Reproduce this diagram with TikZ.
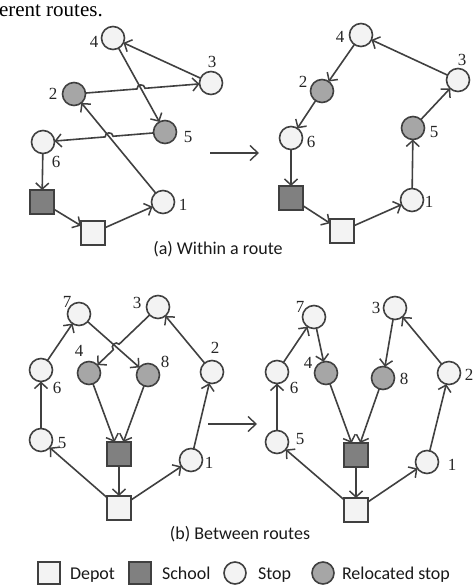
\documentclass[tikz,border=0pt]{standalone}
\usepackage{fontspec}
\setmainfont{Liberation Serif}
\newfontfamily\capfont{Carlito}
\usetikzlibrary{arrows.meta,calc,intersections}
\definecolor{lc}{HTML}{404040}
\definecolor{wf}{HTML}{F3F3F3}
\definecolor{rf}{HTML}{A6A6A6}
\definecolor{sf}{HTML}{808080}
\begin{document}
\begin{tikzpicture}[x=1pt,y=1pt,
  every node/.style={inner sep=0pt, outer sep=0pt},
  stop/.style={circle, draw=lc, fill=wf, line width=1.6pt, minimum size=23pt},
  reloc/.style={stop, fill=rf},
  school/.style={rectangle, draw=lc, fill=sf, line width=1.6pt, minimum size=24pt},
  depot/.style={school, fill=wf},
  lstop/.style={stop, minimum size=22pt},
  lreloc/.style={reloc, minimum size=22pt},
  lschool/.style={school, minimum size=22pt},
  ldepot/.style={depot, minimum size=22pt},
  lab/.style={font=\fontsize{17}{17}\selectfont, text=black!85},
  captext/.style={font=\capfont\fontsize{18}{18}\selectfont, text=black!90},
  edge/.style={draw=lc, line width=1.6pt, -{Straight Barb[length=6pt,width=13pt,line width=1.5pt]}},
  bigarrow/.style={draw=lc, line width=1.5pt, -{Straight Barb[length=8pt,width=15pt,line width=1.4pt]}}
]
\useasboundingbox (0,0) rectangle (474,-585);

% top fragment text
\node[anchor=base west, font=\fontsize{21}{21}\selectfont] (toptext) at (-1,-17) {erent routes.};

% ---------- (a) left ----------
\node[stop]  (a4) at (113,-38) {};
\node[stop]  (a3) at (211,-83) {};
\node[reloc] (a2) at (74,-94) {};
\node[reloc] (a5) at (165,-132) {};
\node[stop]  (a6) at (43,-142) {};
\node[school] (aS) at (42,-202) {};
\node[depot] (aD) at (93,-233) {};
\node[stop]  (a1) at (163,-202) {};
\node[lab] (la4) at (94,-42) {4};
\node[lab] (la3) at (212,-62) {3};
\node[lab] (la2) at (53,-94) {2};
\node[lab] (la5) at (188,-137) {5};
\node[lab] (la6) at (56,-162) {6};
\node[lab] (la1) at (183,-205) {1};

\path[name path=p45] (a4) -- (a5);
\path[name path=p23] (a2) -- (a3);
\path[name path=p12] (a1) -- (a2);
\path[name path=p56] (a5) -- (a6);
\path[name intersections={of=p45 and p23, by=ha1}];
\path[name intersections={of=p12 and p56, by=ha2}];

\draw[edge] (a3) -- (a4);
\draw[edge] (a4) -- (a5);
\draw[edge] (a5) -- ($(ha2)!4pt!(a5)$) to[bend right=90, looseness=1.6] ($(ha2)!4pt!(a6)$) -- (a6);
\draw[edge] (a6) -- (aS);
\draw[edge] (aS) -- (aD);
\draw[edge] (aD) -- (a1);
\draw[edge] (a1) -- (a2);
\draw[edge] (a2) -- ($(ha1)!4pt!(a2)$) to[bend left=90, looseness=1.6] ($(ha1)!4pt!(a3)$) -- (a3);

% arrow between (a)
\coordinate (aa1) at (210,-153);
\coordinate (aa2) at (259,-153);
\draw[bigarrow] (aa1) -- (aa2);

% ---------- (a) right ----------
\node[stop]  (b4) at (361,-35) {};
\node[stop]  (b3) at (458,-80) {};
\node[reloc] (b2) at (322,-91) {};
\node[reloc] (b5) at (413,-128) {};
\node[stop]  (b6) at (291,-138) {};
\node[school] (bS) at (291,-198) {};
\node[depot] (bD) at (342,-231) {};
\node[stop]  (b1) at (412,-200) {};
\node[lab] (lb4) at (340,-37) {4};
\node[lab] (lb3) at (462,-60) {3};
\node[lab] (lb2) at (303,-82) {2};
\node[lab] (lb5) at (434,-132) {5};
\node[lab] (lb6) at (311,-142) {6};
\node[lab] (lb1) at (429,-202) {1};

\draw[edge] (b3) -- (b4);
\draw[edge] (b4) -- (b2);
\draw[edge] (b2) -- (b6);
\draw[edge] (b6) -- (bS);
\draw[edge] (bS) -- (bD);
\draw[edge] (bD) -- (b1);
\draw[edge] (b1) -- (b5);
\draw[edge] (b5) -- (b3);

\node[captext, anchor=base] (capa) at (218,-254) {(a) Within a route};

% ---------- (b) left ----------
\node[stop]  (c7) at (79,-314) {};
\node[stop]  (c3) at (158,-307) {};
\node[reloc] (c4) at (89,-373) {};
\node[reloc] (c8) at (148,-375) {};
\node[stop]  (c2) at (212,-372) {};
\node[stop]  (c6) at (41,-370) {};
\node[stop]  (c5) at (41,-440) {};
\node[school] (cS) at (119,-454) {};
\node[depot] (cD) at (119,-508) {};
\node[stop]  (c1) at (191,-460) {};
\node[lab] (lc7) at (67,-302) {7};
\node[lab] (lc3) at (137,-303) {3};
\node[lab] (lc4) at (79,-351) {4};
\node[lab] (lc8) at (165,-362) {8};
\node[lab] (lc2) at (215,-348) {2};
\node[lab] (lc6) at (57,-388) {6};
\node[lab] (lc5) at (62,-443) {5};
\node[lab] (lc1) at (209,-463) {1};

\path[name path=p78] (c7) -- (c8);
\path[name path=p34] (c3) -- (c4);
\path[name intersections={of=p78 and p34, by=hc1}];

\draw[edge] (cD) -- (c5);
\draw[edge] (c5) -- (c6);
\draw[edge] (c6) -- (c7);
\draw[edge] (c7) -- (c8);
\draw[edge] (c3) -- ($(hc1)!4pt!(c3)$) to[bend right=90, looseness=1.6] ($(hc1)!4pt!(c4)$) -- (c4);
\draw[edge] (c4) -- (cS);
\draw[edge] (c8) -- (cS);
\draw[edge] (cS) -- (cD);
\draw[edge] (cD) -- (c1);
\draw[edge] (c1) -- (c2);
\draw[edge] (c2) -- (c3);

% arrow between (b)
\coordinate (ba1) at (208,-424);
\coordinate (ba2) at (257,-424);
\draw[bigarrow] (ba1) -- (ba2);

% ---------- (b) right ----------
\node[stop]  (d7) at (314,-317) {};
\node[stop]  (d3) at (395,-308) {};
\node[reloc] (d4) at (326,-373) {};
\node[reloc] (d8) at (383,-378) {};
\node[stop]  (d2) at (449,-373) {};
\node[stop]  (d6) at (277,-372) {};
\node[stop]  (d5) at (277,-442) {};
\node[school] (dS) at (356,-455) {};
\node[depot] (dD) at (356,-510) {};
\node[stop]  (d1) at (427,-462) {};
\node[lab] (ld7) at (300,-307) {7};
\node[lab] (ld3) at (376,-308) {3};
\node[lab] (ld4) at (308,-363) {4};
\node[lab] (ld8) at (404,-379) {8};
\node[lab] (ld2) at (469,-375) {2};
\node[lab] (ld6) at (294,-388) {6};
\node[lab] (ld5) at (300,-439) {5};
\node[lab] (ld1) at (452,-465) {1};

\draw[edge] (dD) -- (d5);
\draw[edge] (d5) -- (d6);
\draw[edge] (d6) -- (d7);
\draw[edge] (d7) -- (d4);
\draw[edge] (d3) -- (d8);
\draw[edge] (d4) -- (dS);
\draw[edge] (d8) -- (dS);
\draw[edge] (dS) -- (dD);
\draw[edge] (dD) -- (d1);
\draw[edge] (d1) -- (d2);
\draw[edge] (d2) -- (d3);

\node[captext, anchor=base] (capb) at (240,-539) {(b) Between routes};

% ---------- legend ----------
\node[ldepot] (kD) at (49,-573) {};
\node[captext, anchor=base west] (tD) at (70,-579) {Depot};
\node[lschool] (kS) at (140,-573) {};
\node[captext, anchor=base west] (tS) at (162,-579) {School};
\node[lstop] (kT) at (235,-573) {};
\node[captext, anchor=base west] (tT) at (258,-579) {Stop};
\node[lreloc] (kR) at (323,-573) {};
\node[captext, anchor=base west] (tR) at (342,-579) {Relocated stop};
\end{tikzpicture}
\end{document}
